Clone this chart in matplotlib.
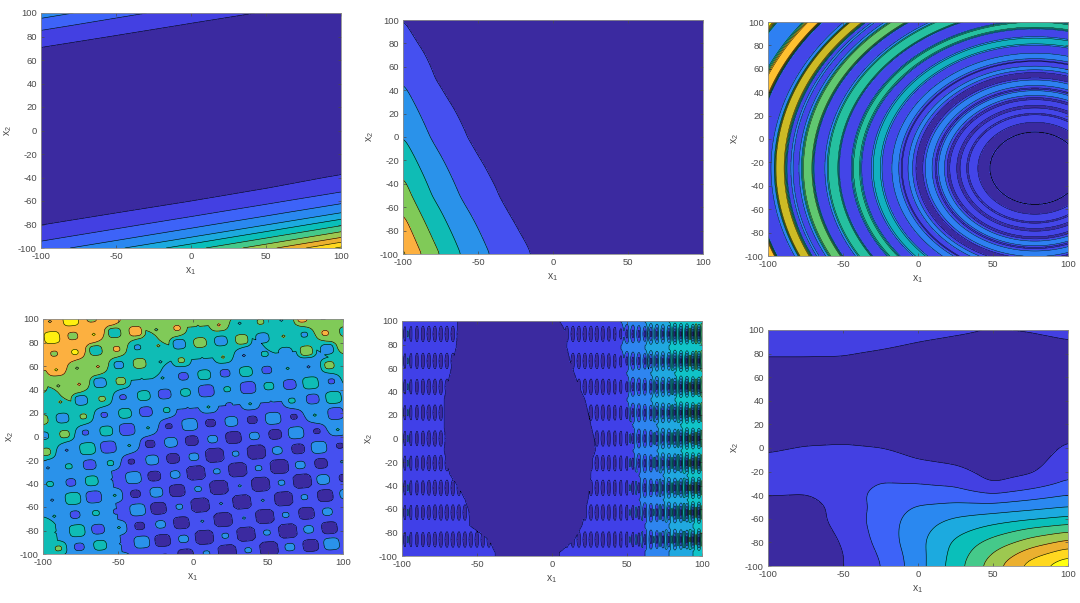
import numpy as np
from matplotlib import pyplot as plt

plt.rcParams["font.family"] = ["Liberation Sans", "DejaVu Sans"]
plt.rcParams["font.size"] = 6.8
plt.rcParams["mathtext.default"] = "regular"
plt.rcParams["axes.unicode_minus"] = False

# colour bands, one colour between each pair of contour levels
fine_colors = ["#3B2AA0", "#4340E2", "#3D63F8", "#2A88F0", "#1CAADF", "#0ABFBA",
               "#45C98A", "#9DC850", "#EBB030", "#FFD820", "#FFFF10"]
coarse_colors = ["#3B2AA0", "#4550F0", "#2A92EA", "#0FBCB5", "#80CA58", "#FCB040", "#FFF010"]
ring_colors = ["#3B2AA0", "#4345E8", "#2E80F2", "#12B0C0", "#25C0A0", "#60C870",
               "#CDBB25", "#FFC030", "#FFF000"]
spot_colors = ["#3B2AA0", "#4040E8", "#2E85F0", "#20A8E0", "#10C4C8", "#50C880",
               "#CDBB25", "#FFC030"]

# panel 1, values on a coarse grid
p1_x = [-100, -50, 0, 50, 100]
p1_y = [-100, -90, -80, -70, -60, -50, -40, -20, 0, 60, 70, 80, 90, 100]
p1_z = [[2.5, 3.79, 5.6, 7.63, 10.2],
        [1.64, 2.55, 3.86, 5.7, 7.75],
        [0.97, 1.68, 2.6, 3.93, 5.8],
        [0.72, 0.99, 1.71, 2.65, 4.0],
        [0.5, 0.74, 1.0, 1.75, 2.7],
        [0.5, 0.5, 0.75, 1.02, 1.79],
        [0.5, 0.5, 0.5, 0.76, 1.07],
        [0.5, 0.5, 0.5, 0.5, 0.51],
        [0.5, 0.5, 0.5, 0.5, 0.5],
        [0.74, 0.5, 0.5, 0.5, 0.5],
        [0.96, 0.73, 0.5, 0.5, 0.5],
        [1.57, 0.95, 0.72, 0.5, 0.5],
        [2.4, 1.54, 0.93, 0.71, 0.5],
        [3.5, 2.35, 1.5, 0.92, 0.7]]

# panel 2
p2_x = [-100, -90, -80, -70, -60, -50, -40, -30, -20, -10, 0, 100]
p2_y = [-100, -50, 0, 50, 100]
p2_z = [[6.2, 5.2, 4.33, 3.57, 2.89, 2.37, 1.89, 1.54, 1.18, 0.83, 0.5, 0.5],
        [4.47, 3.66, 2.95, 2.4, 1.89, 1.52, 1.14, 0.79, 0.5, 0.5, 0.5, 0.5],
        [3.0, 2.43, 1.9, 1.5, 1.1, 0.76, 0.5, 0.5, 0.5, 0.5, 0.5, 0.5],
        [1.91, 1.48, 1.05, 0.72, 0.5, 0.5, 0.5, 0.5, 0.5, 0.5, 0.5, 0.5],
        [1.0, 0.67, 0.5, 0.5, 0.5, 0.5, 0.5, 0.5, 0.5, 0.5, 0.5, 0.5]]

# panel 3, rings read as band value against distance from the ring centre
ring_center = (78, -25)
ring_squash = 0.97
ring_r = [0, 26, 30, 33, 37, 42, 45, 47.5, 51, 54.5, 58, 61.5, 63.5, 66, 70, 72, 75, 79, 83, 86, 89,
          92, 94, 97, 101, 103.5, 107.5, 110, 115, 117, 121, 123, 130, 132, 137, 139, 142, 147,
          149, 154, 156, 159, 162, 165, 167.5, 172.5, 174, 178, 186.5, 188.5, 193.5, 197, 203,
          210, 213, 218]
ring_v = [0.3, 0.6, 1.02, 0.7, 0.8, 1.7, 0.8, 1.7, 0.7, 1.6, 0.7, 2.6, 2.6, 0.7, 2.7, 2.7, 0.9, 0.85,
          2.6, 1.5, 0.9, 2.7, 2.7, 1.2, 1.2, 3.3, 3.3, 1.3, 1.3, 4.1, 4.1, 1.4, 1.3, 5.0, 5.0,
          2.4, 1.3, 1.4, 5.5, 5.5, 2.5, 1.4, 2.2, 1.4, 6.5, 6.5, 2.6, 1.4, 1.6, 7.5, 7.5, 2.5,
          2.4, 2.6, 8.5, 8.5]

# panel 4, egg-box field on a slightly rotated lattice
lattice_origin = (2.0, -31.0)
lattice_a = (13.9, 1.35)
lattice_b = (-1.4, 13.7)
# band of the ridge at the cell corners, top row first
p4_corner = [[5, 5, 5, 5, 5, 5, 4, 4, 4, 4, 4, 4, 3, 3, 3, 4, 4, 4],
             [5, 5, 5, 5, 5, 5, 4, 4, 4, 4, 4, 4, 3, 3, 3, 4, 4, 4],
             [5, 5, 5, 5, 5, 4, 4, 3, 4, 3, 3, 3, 3, 3, 3, 4, 4, 4],
             [5, 5, 5, 5, 4, 4, 3, 3, 3, 3, 3, 3, 2, 3, 3, 3, 4, 4],
             [4, 4, 4, 4, 4, 3, 3, 3, 2, 2, 2, 2, 2, 2, 2, 2, 3, 3],
             [3, 3, 3, 4, 3, 3, 2, 2, 2, 2, 2, 2, 2, 2, 2, 2, 3, 3],
             [3, 3, 3, 3, 3, 2, 2, 2, 2, 2, 2, 2, 2, 2, 2, 2, 2, 2],
             [3, 3, 3, 3, 2, 2, 2, 2, 1, 1, 1, 1, 1, 1, 2, 2, 2, 2],
             [3, 3, 3, 2, 2, 2, 2, 1, 1, 1, 1, 1, 1, 1, 1, 2, 2, 2],
             [3, 3, 2, 2, 2, 2, 1, 1, 1, 1, 1, 1, 1, 1, 1, 1, 1, 1],
             [2, 2, 2, 2, 2, 1, 1, 1, 1, 1, 1, 1, 1, 1, 1, 1, 1, 1],
             [2, 2, 2, 2, 2, 1, 1, 1, 1, 1, 1, 1, 1, 1, 1, 1, 1, 1],
             [2, 2, 2, 2, 2, 1, 1, 1, 1, 1, 1, 1, 1, 1, 1, 1, 1, 1],
             [3, 3, 2, 2, 2, 1, 1, 1, 1, 1, 1, 1, 1, 1, 1, 1, 1, 1],
             [3, 3, 2, 2, 2, 1, 1, 1, 1, 1, 1, 1, 1, 1, 1, 1, 1, 1],
             [3, 3, 2, 2, 2, 1, 1, 1, 1, 1, 1, 1, 1, 1, 1, 1, 1, 1],
             [3, 3, 2, 2, 2, 1, 1, 1, 1, 1, 1, 1, 1, 1, 1, 1, 1, 1],
             [3, 3, 2, 2, 2, 1, 1, 1, 1, 1, 1, 1, 1, 1, 1, 1, 1, 1]]
# blob size in the cells: minus is a pit, plus is a bump, top row first
p4_blob = [[-1, 1, -1, 5, -3, 1, -1, 1, -1, 1, -1, 1, -1, 1, -1, 1, -1],
           [1, -1, 5, -3, 1, -4, 4, -1, 2, -1, 1, -1, 2, -1, 3, -2, 2],
           [-1, 1, -2, 2, -4, 2, -2, 1, -4, 4, -4, 4, -4, 1, -2, 2, -4],
           [1, -1, 1, -1, 1, -3, 4, -1, 2, -1, 1, -1, 2, -4, 4, -4, 2],
           [-1, 1, -1, 1, -4, 3, -1, 1, -3, 4, -3, 4, -3, 1, -1, 3, -3],
           [1, -1, 1, -4, 2, -2, 4, -4, 3, -5, 2, -5, 3, -4, 5, -2, 3],
           [-1, 4, -4, 2, -2, 4, -4, 2, -1, 1, -2, 1, -1, 2, -4, 5, -3],
           [1, -3, 3, -2, 4, -5, 1, -2, 5, -3, 4, -3, 5, -2, 1, -5, 1],
           [-1, 3, -1, 5, -5, 1, -3, 4, -4, 3, -5, 3, -4, 5, -2, 1, -1],
           [1, -1, 2, -4, 2, -2, 4, -4, 3, -6, 2, -6, 3, -4, 5, -2, 1],
           [-1, 2, -3, 4, -1, 5, -4, 3, -6, 2, -6, 2, -6, 3, -4, 1, -1],
           [1, -1, 5, -5, 1, -3, 4, -5, 2, -6, 1, -6, 2, -6, 4, -3, 1],
           [-1, 1, -3, 2, -2, 5, -5, 2, -6, 1, -6, 1, -6, 2, -5, 4, -1],
           [1, -1, 5, -4, 1, -3, 3, -5, 1, -6, 1, -6, 2, -5, 3, -2, 1],
           [-1, 2, -3, 4, -1, 5, -5, 3, -6, 2, -6, 2, -6, 3, -5, 4, -1],
           [1, -2, 3, -2, 1, -3, 2, -5, 2, -6, 2, -6, 3, -5, 5, -3, 3],
           [-1, 1, -1, 1, -1, 1, -1, 1, -1, 1, -1, 1, -1, 1, -1, 1, -1]]
# half width of a blob of size 1..6, as a share of the lattice step
blob_radius = [0.06, 0.14, 0.22, 0.3, 0.38, 0.46]

# panel 5, rows of narrow spots, columns run every 4 units along x1
p5_x = list(range(-100, 101, 4))
p5_gap = [1.5, 1.5, 1.5] + [1.4] * 32 + [1.45, 1.5, 1.7, 2.3, 2.5, 2.6, 2.8, 3.2, 3.5, 3.6,
                                          3.8, 4.2, 4.4, 4.5, 4.7, 4.9]
p5_high = [2.4, 2.2, 2.0, 1.5] + [1.3] * 29 + [1.35, 1.4, 1.5, 1.7, 1.9, 2.2, 2.4, 2.6, 3.0,
                                                3.2, 3.6, 4.0, 4.4, 4.6, 5.0, 5.3, 5.6, 5.8]
p5_low = [0.2] * 36 + [0.2, 0.2, 0.2, 0.2, 0.2, 0.2, 0.2, 0.2, 0.2, 0.1, 0.1, 0.0, 0.0, -0.1, -0.2]
# centres of the spot rows, top to bottom
p5_rows = [89, 66, 44, 22, 0, -21, -42, -63, -86]
# left and right edge of the dark middle, and how far the hot side is pushed, by height
p5_edge_y = [100, 89, 77, 66, 55, 44, 33, 22, 11, 0, -10, -21, -31, -42, -52, -63, -74, -86, -97]
p5_dark_left = [-63, -63, -64, -66, -68, -70, -72, -72, -72, -71, -72, -70, -68, -62, -58, -55, -55, -42, -38]
p5_dark_right = [5, 10, 10, 12, 15, 18, 22, 24, 26, 28, 29, 26, 26, 25, 24, 22, 20, 15, 5]
p5_shift = [-4, -4, -4, -4, 0, 0, 0, 0, 4, 4, 4, 4, 8, 8, 8, 12, 12, 12, 12]
spot_half_width = 1.9
spot_half_height = 10.0

# panel 6
p6_x = [-100, -75, -50, -25, 0, 25, 50, 75, 100]
p6_y = [-100, -90, -80, -70, -60, -50, -40, -30, -20, -10, 0, 10, 50, 70, 80, 90, 100]
p6_z = [[0.6, 0.5, 0.95, 1.95, 3.57, 5.54, 7.58, 9.47, 10.8],
        [0.55, 0.45, 0.95, 2.1, 3.6, 5.4, 7.1, 8.6, 9.7],
        [0.5, 0.4, 1.05, 2.3, 3.7, 5.2, 6.4, 7.45, 8.3],
        [0.6, 0.45, 1.2, 2.4, 3.65, 4.67, 5.5, 6.3, 6.83],
        [0.7, 0.5, 1.4, 2.4, 3.5, 4.1, 4.5, 4.88, 5.25],
        [0.75, 0.65, 1.3, 2.35, 3.1, 3.3, 3.38, 3.67, 4.0],
        [1.0, 0.95, 1.4, 2.4, 2.44, 2.5, 2.12, 2.55, 3.0],
        [1.4, 1.4, 1.5, 2.0, 2.0, 1.8, 0.95, 1.5, 2.15],
        [1.5, 1.5, 1.5, 1.75, 1.5, 1.26, 0.65, 0.85, 1.78],
        [1.2, 1.35, 1.35, 1.3, 0.97, 0.8, 0.5, 0.6, 1.45],
        [0.85, 1.05, 1.1, 1.0, 0.8, 0.7, 0.4, 0.5, 1.15],
        [0.7, 0.75, 0.8, 0.75, 0.65, 0.6, 0.4, 0.45, 0.85],
        [0.4, 0.4, 0.4, 0.4, 0.4, 0.4, 0.4, 0.4, 0.4],
        [0.85, 0.85, 0.85, 0.7, 0.6, 0.5, 0.4, 0.45, 0.5],
        [1.05, 1.05, 1.03, 0.9, 0.75, 0.6, 0.5, 0.55, 0.7],
        [1.35, 1.35, 1.35, 1.2, 1.0, 0.85, 0.7, 0.75, 0.95],
        [1.7, 1.7, 1.65, 1.5, 1.3, 1.15, 1.02, 1.1, 1.25]]


def new_axes(left, top, right, bottom):
    return fig.add_axes([left / 1080, 1 - bottom / 603, (right - left) / 1080, (bottom - top) / 603])


def draw(ax, x, y, z, colors, lw=0.42):
    levels = [-50] + list(range(1, len(colors))) + [50]
    ax.contourf(x, y, z, levels=levels, colors=colors)
    ax.contour(x, y, z, levels=levels[1:-1], colors="k", linewidths=lw)
    ax.set_xlim(-100, 100)
    ax.set_ylim(-100, 100)
    ax.set_xticks(range(-100, 101, 50))
    ax.set_yticks(range(-100, 101, 20))
    ax.tick_params(direction="in", length=2.5, width=0.5, top=True, right=True,
                   colors="#4a4a4a", pad=3)
    for spine in ax.spines.values():
        spine.set_linewidth(0.6)
        spine.set_color("#8c8c8c")
    ax.set_xlabel("x$_1$", color="#4a4a4a", labelpad=3, fontsize=7.5)
    ax.set_ylabel("x$_2$", color="#4a4a4a", labelpad=3, fontsize=7.5)


def soften(x, y, z, width):
    # resample a read grid to one unit steps and take the corners off the contours
    gx = np.arange(-100.0, 100.5, 1.0)
    rows = np.array([np.interp(gx, x, row) for row in np.array(z, dtype=float)])
    fine = np.array([np.interp(gx, y, col) for col in rows.T]).T
    kernel = np.ones(width) / width
    pad = width // 2
    for _ in range(2):
        fine = np.pad(fine, pad, mode="edge")
        fine = np.apply_along_axis(np.convolve, 0, fine, kernel, mode="same")
        fine = np.apply_along_axis(np.convolve, 1, fine, kernel, mode="same")
        fine = fine[pad:-pad, pad:-pad]
    return gx, gx, fine


def ring_field():
    gx, gy = np.meshgrid(np.linspace(-100, 100, 501), np.linspace(-100, 100, 501))
    r = np.hypot(gx - ring_center[0], ring_squash * (gy - ring_center[1]))
    return gx, gy, np.interp(r, ring_r, ring_v)


def blob_field():
    corner = np.array(p4_corner, dtype=float)[::-1] + 0.5
    blob = np.array(p4_blob)[::-1]
    rows, cols = blob.shape
    sub = 12
    z = np.zeros((rows * sub + 1, cols * sub + 1))
    t = np.arange(sub + 1) / sub
    for j in range(rows):
        for i in range(cols):
            u, v = np.meshgrid(t, t)
            ridge = (corner[j, i] * (1 - u) * (1 - v) + corner[j, i + 1] * u * (1 - v)
                     + corner[j + 1, i] * (1 - u) * v + corner[j + 1, i + 1] * u * v)
            size = blob[j, i]
            radius = blob_radius[abs(size) - 1]
            mean = corner[j:j + 2, i:i + 2].mean()
            edge = np.floor(mean) if size < 0 else np.floor(mean) + 1
            # rounded square blob, the contour at the band edge sits on its radius
            d = (np.abs(u - 0.5) ** 3 + np.abs(v - 0.5) ** 3) ** (1 / 3)
            peak = edge + (0.9 if size > 0 else -0.9)
            cell = np.where(d < radius, edge + (peak - edge) * (radius - d) / radius,
                            edge + (ridge - edge) * (d - radius) / (0.5 - radius))
            cell = np.where(d >= 0.5, ridge, cell)
            z[j * sub:(j + 1) * sub + 1, i * sub:(i + 1) * sub + 1] = cell
    ii, jj = np.meshgrid(-8.5 + np.arange(cols * sub + 1) / sub, -6.5 + np.arange(rows * sub + 1) / sub)
    gx = lattice_origin[0] + ii * lattice_a[0] + jj * lattice_b[0]
    gy = lattice_origin[1] + ii * lattice_a[1] + jj * lattice_b[1]
    return gx, gy, z


def spot_field():
    gx = np.arange(-100.0, 100.25, 0.25)
    gy = np.arange(-100.0, 100.5, 0.5)
    xx, yy = np.meshgrid(gx, gy)
    shift = np.interp(-yy, -np.array(p5_edge_y), p5_shift)
    z = np.interp(xx - shift, p5_x, p5_gap)
    for row in p5_rows:
        for k, xc in enumerate(p5_x):
            # low spot half way to the next column, high spot on the column
            for centre, level in ((xc, p5_high[k]), (xc + 2, p5_low[k])):
                d = np.hypot((xx - centre) / spot_half_width, (yy - row) / spot_half_height)
                inside = d < 1
                z[inside] = (z + (level - z) * (1 - d))[inside]
    left = np.interp(-yy, -np.array(p5_edge_y), p5_dark_left)
    right = np.interp(-yy, -np.array(p5_edge_y), p5_dark_right)
    z[(xx > left) & (xx < right)] = 0.5
    return gx, gy, z


fig = plt.figure(figsize=(10.8, 6.03), dpi=100)

draw(new_axes(41, 13, 341, 248), p1_x, p1_y, p1_z, fine_colors)
draw(new_axes(403, 20, 703, 254), *soften(p2_x, p2_y, p2_z, 5), coarse_colors)
draw(new_axes(768, 22, 1068, 256), *ring_field(), ring_colors, lw=0.3)
draw(new_axes(43, 319, 343, 554), *blob_field(), coarse_colors)
draw(new_axes(402, 321, 702, 556), *spot_field(), spot_colors, lw=0.35)
draw(new_axes(768, 330, 1068, 566), *soften(p6_x, p6_y, p6_z, 9), fine_colors)

fig.savefig("out.png", dpi=100)
